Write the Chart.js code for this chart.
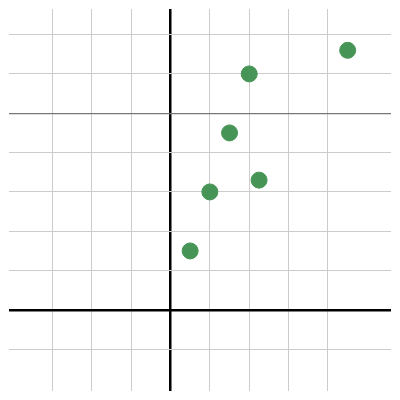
<!DOCTYPE html>
<html><head><style>html,body{margin:0;padding:0;background:#fff}</style>
<script src="https://cdn.jsdelivr.net/npm/chart.js@4"></script></head>
<body><canvas id="c" width="400" height="400"></canvas>
<script>
const xValues=[0.5,1,1.5,2,2.25,4.5];
const yValues=[1.5,3,4.5,6,3.3,6.6];
const pts=xValues.map((x,i)=>({x,y:yValues[i]}));
function gridColor(ctx){const v=ctx.tick.value;if(Math.abs(v-Math.round(v))>1e-6)return 'rgba(0,0,0,0)';if(v===0)return '#000';if(v%5===0)return '#777';return '#ccc';}
function gridWidth(ctx){return ctx.tick.value===0?2.5:(ctx.tick.value%5===0?1.3:1);}
const axis=(min,max)=>({type:'linear',min,max,ticks:{display:false,stepSize:1,autoSkip:false},border:{display:false},grid:{drawTicks:false,color:gridColor,lineWidth:gridWidth}});
new Chart(document.getElementById('c'),{type:'scatter',
data:{datasets:[{data:pts,backgroundColor:'#479556',borderColor:'#479556',pointRadius:8,pointHoverRadius:8}]},
options:{responsive:false,animation:false,layout:{padding:-10},plugins:{legend:{display:false},tooltip:{enabled:false}},
scales:{x:axis(-4.1,5.6),y:axis(-2.06,7.65)}}});
</script></body></html>
